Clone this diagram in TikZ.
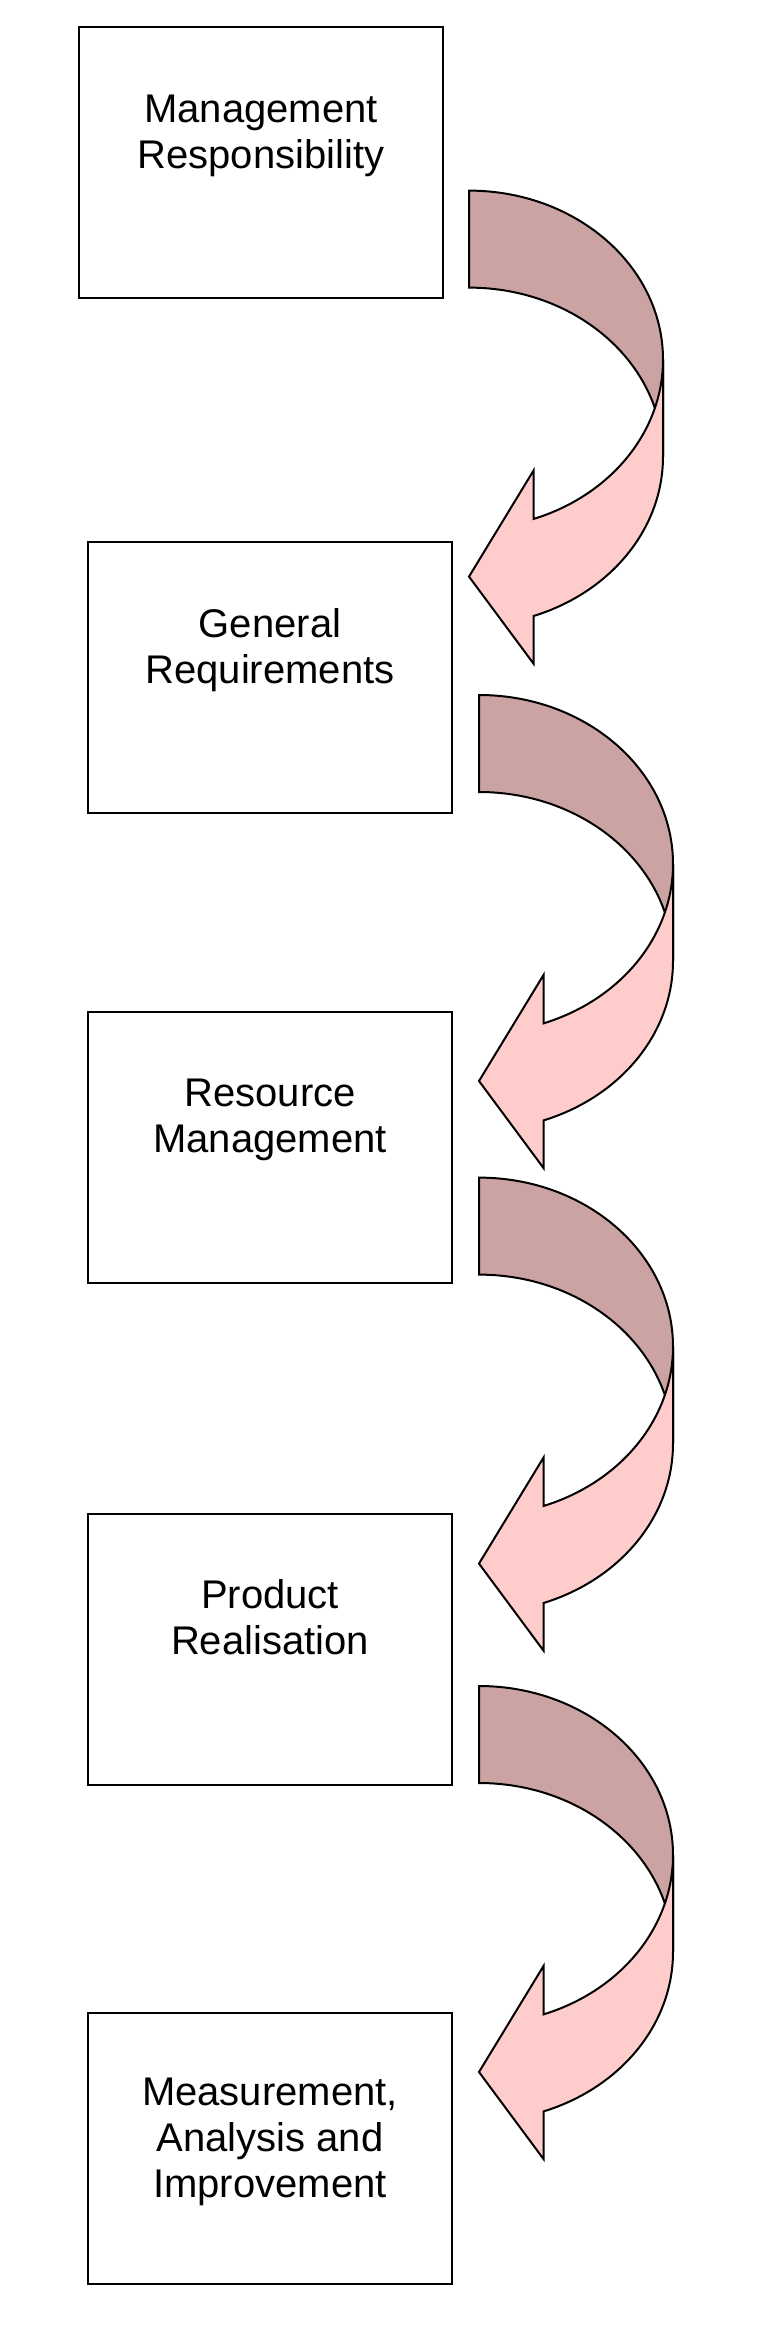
\documentclass[tikz,border=0pt]{standalone}
\usepackage{fontspec}
\setmainfont{Liberation Sans}
\definecolor{backfill}{RGB}{204,163,163}
\definecolor{frontfill}{RGB}{255,204,204}
\tikzset{
  stagebox/.style={rectangle, draw=black, line width=2pt, fill=white,
    minimum width=364pt, minimum height=271pt, inner sep=0pt, anchor=north west},
  stagelabel/.style={align=center, anchor=north, inner sep=0pt,
    font=\fontsize{40}{46}\selectfont},
  arrowline/.style={draw=black, line width=2pt, line join=miter},
  carrow/.pic={
    \filldraw[arrowline, fill=backfill]
      (0,0) arc[start angle=90, end angle=0, x radius=194pt, y radius=169pt]
      -- (194,-266) arc[start angle=0, end angle=90, x radius=194pt, y radius=169pt]
      -- cycle;
    \filldraw[arrowline, fill=frontfill]
      (194,-169) arc[start angle=0, end angle=-70.58, x radius=194pt, y radius=169pt]
      -- (64.5,-280) -- (0,-386) -- (64.5,-473) -- (64.5,-425.4)
      arc[start angle=-70.58, end angle=0, x radius=194pt, y radius=169pt]
      -- cycle;
  }
}
\begin{document}
\begin{tikzpicture}[x=1pt, y=1pt]
  \useasboundingbox (0,0) rectangle (784,-2338);
  \fill[white] (0,0) rectangle (784,-2338);

  % boxes
  \node[stagebox] (b1) at (78,-26) {};
  \node[stagebox] (b2) at (87,-541) {};
  \node[stagebox] (b3) at (87,-1011) {};
  \node[stagebox] (b4) at (87,-1513) {};
  \node[stagebox] (b5) at (87,-2012) {};

  % labels
  \node[stagelabel] (t1) at ([yshift=-69pt]b1.north) {Management\\Responsibility};
  \node[stagelabel] (t2) at ([yshift=-67pt]b2.north) {General\\Requirements};
  \node[stagelabel] (t3) at ([yshift=-68pt]b3.north) {Resource\\Management};
  \node[stagelabel] (t4) at ([yshift=-66pt]b4.north) {Product\\Realisation};
  \node[stagelabel] (t5) at ([yshift=-66pt]b5.north) {Measurement,\\Analysis and\\Improvement};

  % curved arrows
  \pic (a1) at (469,-190.6) {carrow};
  \pic (a2) at (479,-695) {carrow};
  \pic (a3) at (479,-1177.6) {carrow};
  \pic (a4) at (479,-1686) {carrow};
\end{tikzpicture}
\end{document}
